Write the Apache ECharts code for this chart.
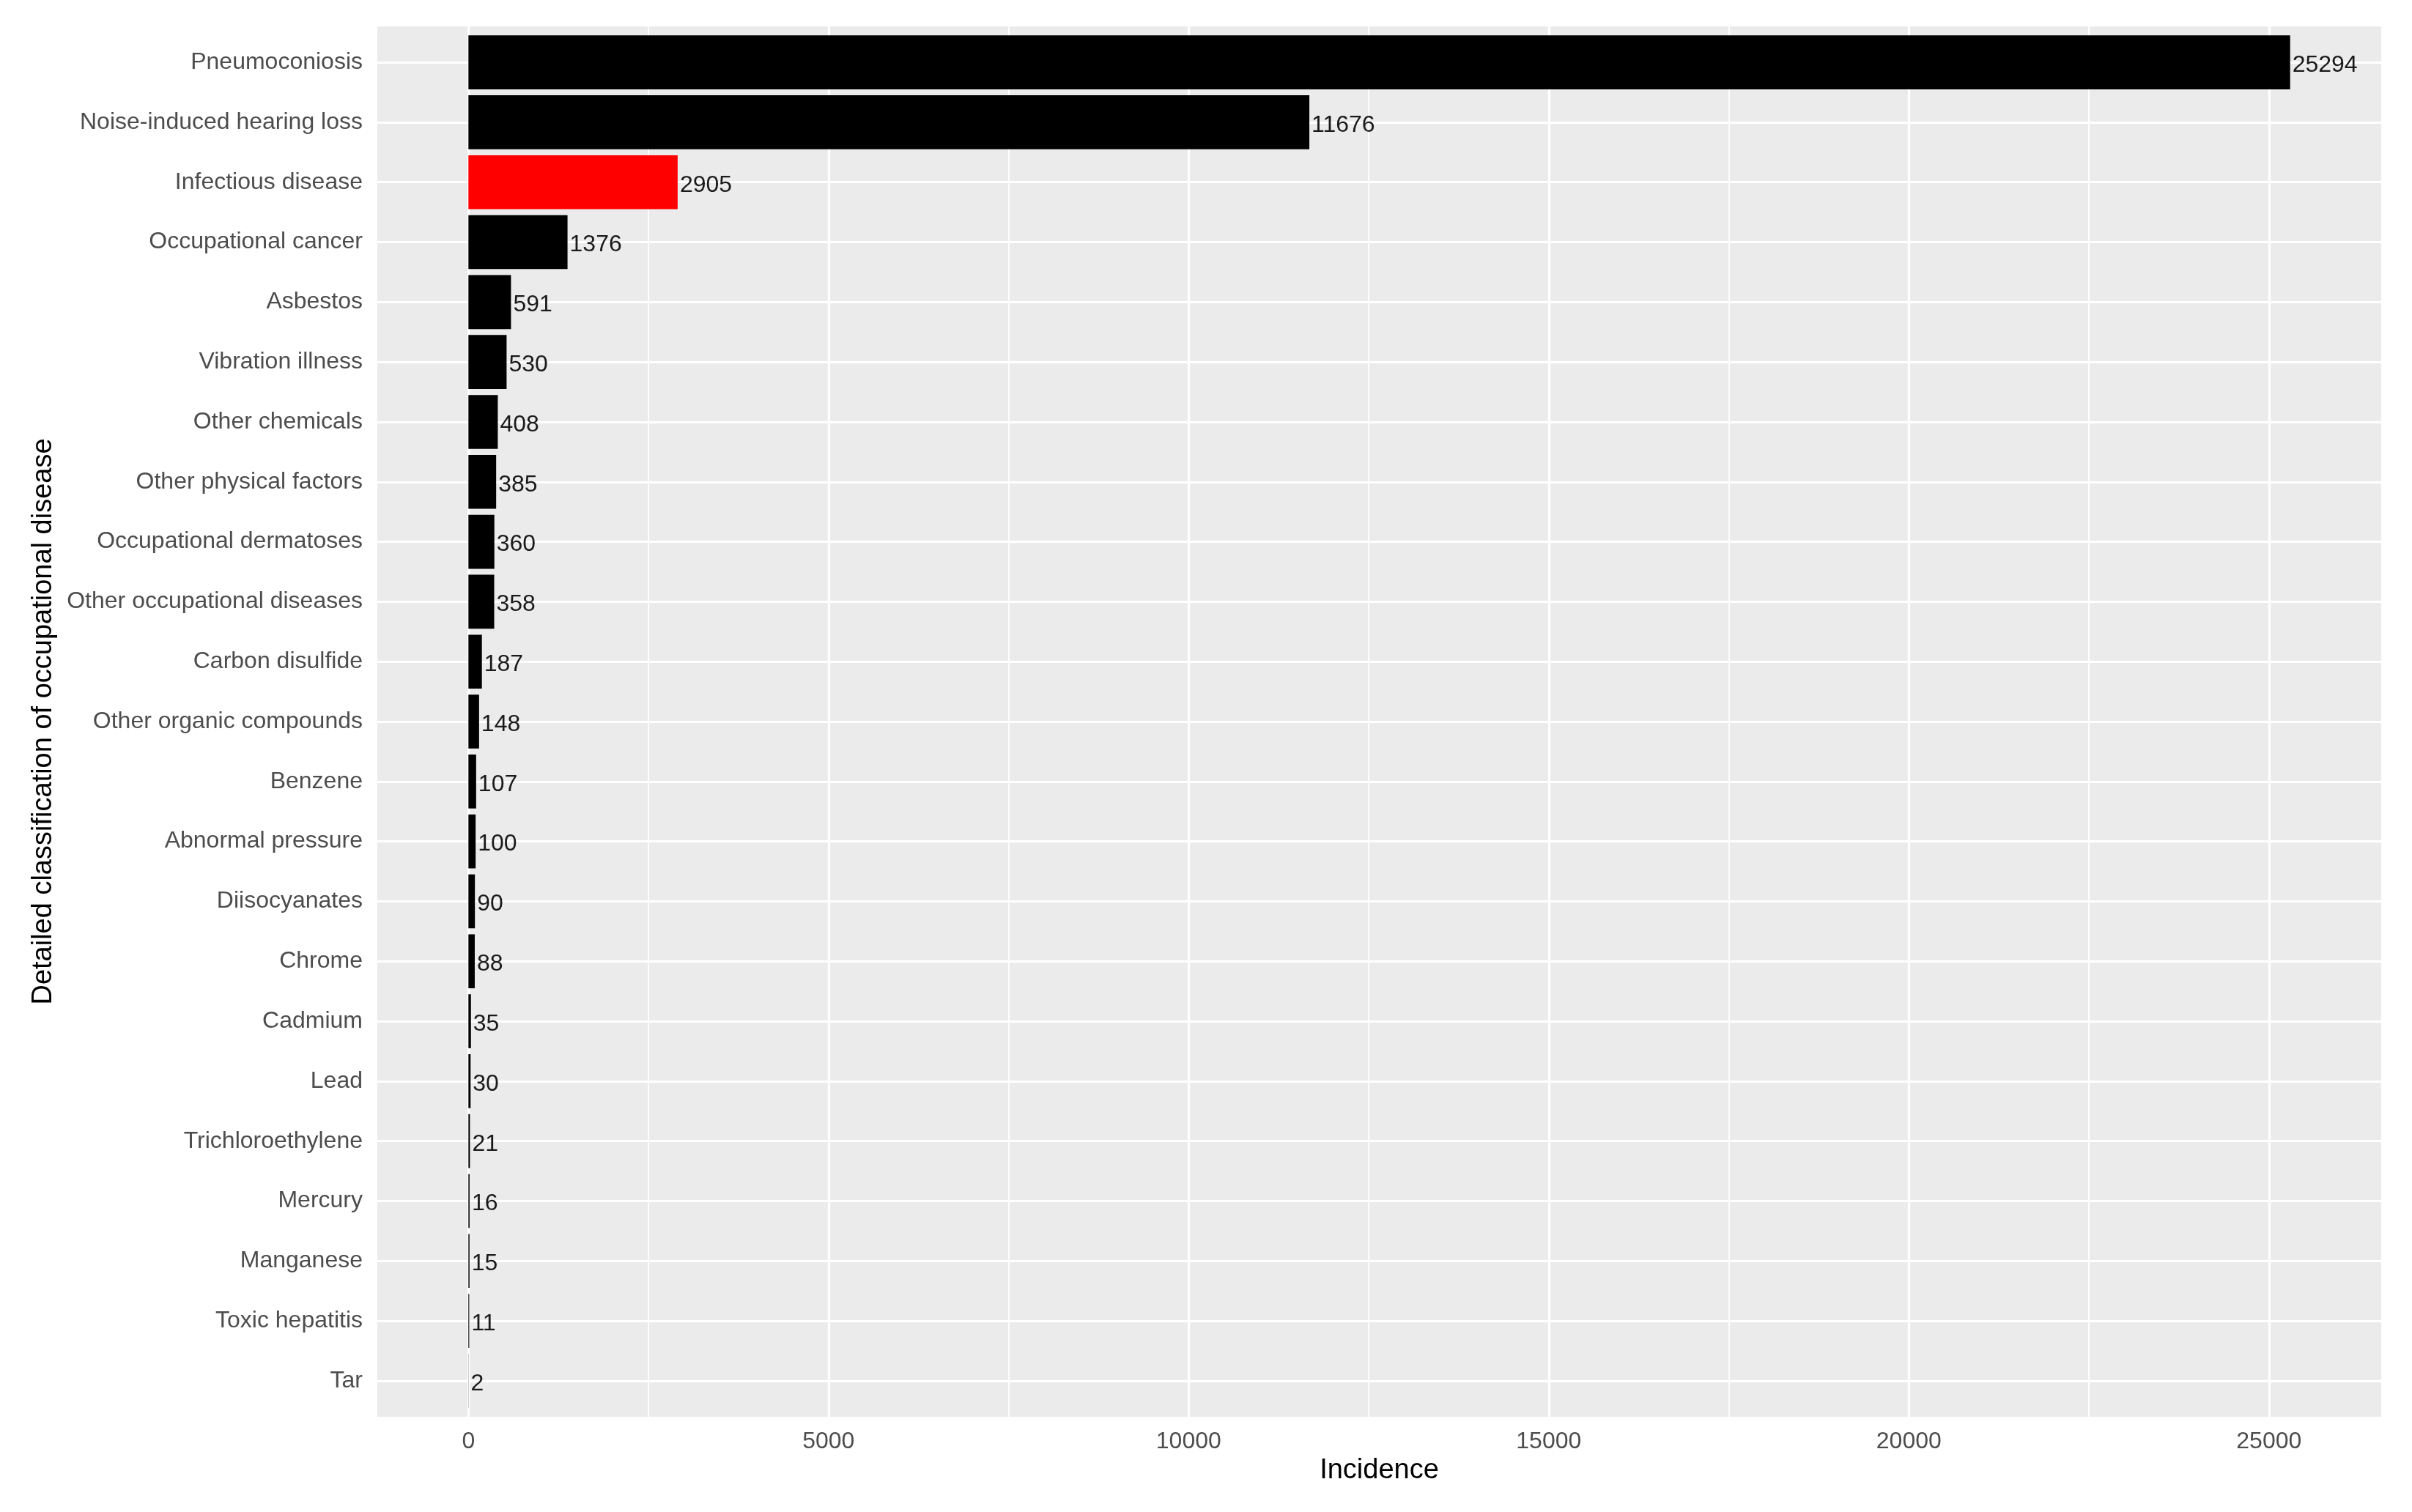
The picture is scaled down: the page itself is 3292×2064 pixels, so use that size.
<!DOCTYPE html>
<html>
<head>
<meta charset="utf-8">
<script src="https://cdn.jsdelivr.net/npm/echarts@6/dist/echarts.min.js"></script>
<style>
html,body{margin:0;padding:0;background:#fff;}
#chart{width:3292px;height:2064px;}
</style>
</head>
<body>
<div id="chart"></div>
<script>
const categories = [
  'Pneumoconiosis','Noise-induced hearing loss','Infectious disease','Occupational cancer',
  'Asbestos','Vibration illness','Other chemicals','Other physical factors',
  'Occupational dermatoses','Other occupational diseases','Carbon disulfide',
  'Other organic compounds','Benzene','Abnormal pressure','Diisocyanates','Chrome',
  'Cadmium','Lead','Trichloroethylene','Mercury','Manganese','Toxic hepatitis','Tar'
];
const incidence = [
  25294, 11676, 2905, 1376, 591, 530, 408, 385, 360, 358, 187,
  148, 107, 100, 90, 88, 35, 30, 21, 16, 15, 11, 2
];
const xMajorTicks = [0, 5000, 10000, 15000, 20000, 25000];
const xMinorTicks = [2500, 7500, 12500, 17500, 22500];
const highlightCategory = 'Infectious disease';
const xTitle = 'Incidence';
const yTitle = 'Detailed classification of occupational disease';

// layout (pixels)
const PL = 515, PT = 36, PW = 2735, PH = 1898;
const n = categories.length;
const unit = PH / (n - 1 + 1.2);
const dataMax = Math.max(...incidence);
const xMin = -0.05 * dataMax, xMax = 1.05 * dataMax;

const FONT = "'Liberation Sans', Arial, sans-serif";

const chart = echarts.init(document.getElementById('chart'), null, {renderer: 'canvas'});

const gridLines = [];
xMinorTicks.forEach(v => gridLines.push({xAxis: v, lineStyle: {width: 1.8}}));
xMajorTicks.forEach(v => gridLines.push({xAxis: v, lineStyle: {width: 3.2}}));
categories.forEach((c, i) => gridLines.push({yAxis: i, lineStyle: {width: 3.2}}));

chart.setOption({
  animation: false,
  backgroundColor: '#ffffff',
  textStyle: {fontFamily: FONT},
  grid: [
    {left: PL, top: PT + 0.1 * unit, width: PW, height: unit * n, containLabel: false},
    {left: PL, top: PT, width: PW, height: PH, show: true, backgroundColor: '#EBEBEB', borderWidth: 0, containLabel: false}
  ],
  xAxis: [
    {gridIndex: 0, type: 'value', min: xMin, max: xMax, show: false},
    {
      gridIndex: 1, type: 'value', min: xMin, max: xMax,
      axisLine: {show: false},
      splitLine: {show: false},
      axisTick: {show: true, customValues: xMajorTicks, length: 10, lineStyle: {color: '#333333', width: 3}},
      axisLabel: {customValues: xMajorTicks, margin: 18, color: '#4D4D4D', fontSize: 32, fontFamily: FONT,
                  formatter: v => String(v)},
      name: xTitle, nameLocation: 'middle', nameGap: 52,
      nameTextStyle: {fontSize: 38, color: '#000000', fontFamily: FONT}
    }
  ],
  yAxis: [
    {
      gridIndex: 0, type: 'category', data: categories, inverse: true,
      axisLine: {show: false},
      splitLine: {show: false},
      axisTick: {show: true, alignWithLabel: true, length: 10, lineStyle: {color: '#333333', width: 3}},
      axisLabel: {margin: 20, color: '#4D4D4D', fontSize: 32, fontFamily: FONT, padding: [7, 0, 0, 0]}
    },
    {
      gridIndex: 1, type: 'value', min: -0.6, max: n - 1 + 0.6, inverse: true,
      axisLine: {show: false}, axisTick: {show: false}, axisLabel: {show: false}, splitLine: {show: false},
      name: yTitle, nameLocation: 'middle', nameGap: 436, nameRotate: 90,
      nameTextStyle: {fontSize: 38, color: '#000000', fontFamily: FONT}
    }
  ],
  series: [
    {
      type: 'line', xAxisIndex: 1, yAxisIndex: 1, data: [], silent: true, z: 1,
      markLine: {
        z: 1, silent: true, symbol: 'none', label: {show: false},
        lineStyle: {color: '#FFFFFF', type: 'solid'},
        emphasis: {disabled: true},
        data: gridLines
      }
    },
    {
      type: 'bar', xAxisIndex: 0, yAxisIndex: 0, z: 3,
      barCategoryGap: '10%',
      data: categories.map((c, i) => ({
        value: incidence[i],
        itemStyle: {color: c === highlightCategory ? '#FF0000' : '#000000'}
      })),
      label: {show: true, position: 'right', distance: 3, offset: [0, 4], color: '#1A1A1A', fontSize: 32, fontFamily: FONT},
      emphasis: {disabled: true}
    }
  ]
});
</script>
</body>
</html>
